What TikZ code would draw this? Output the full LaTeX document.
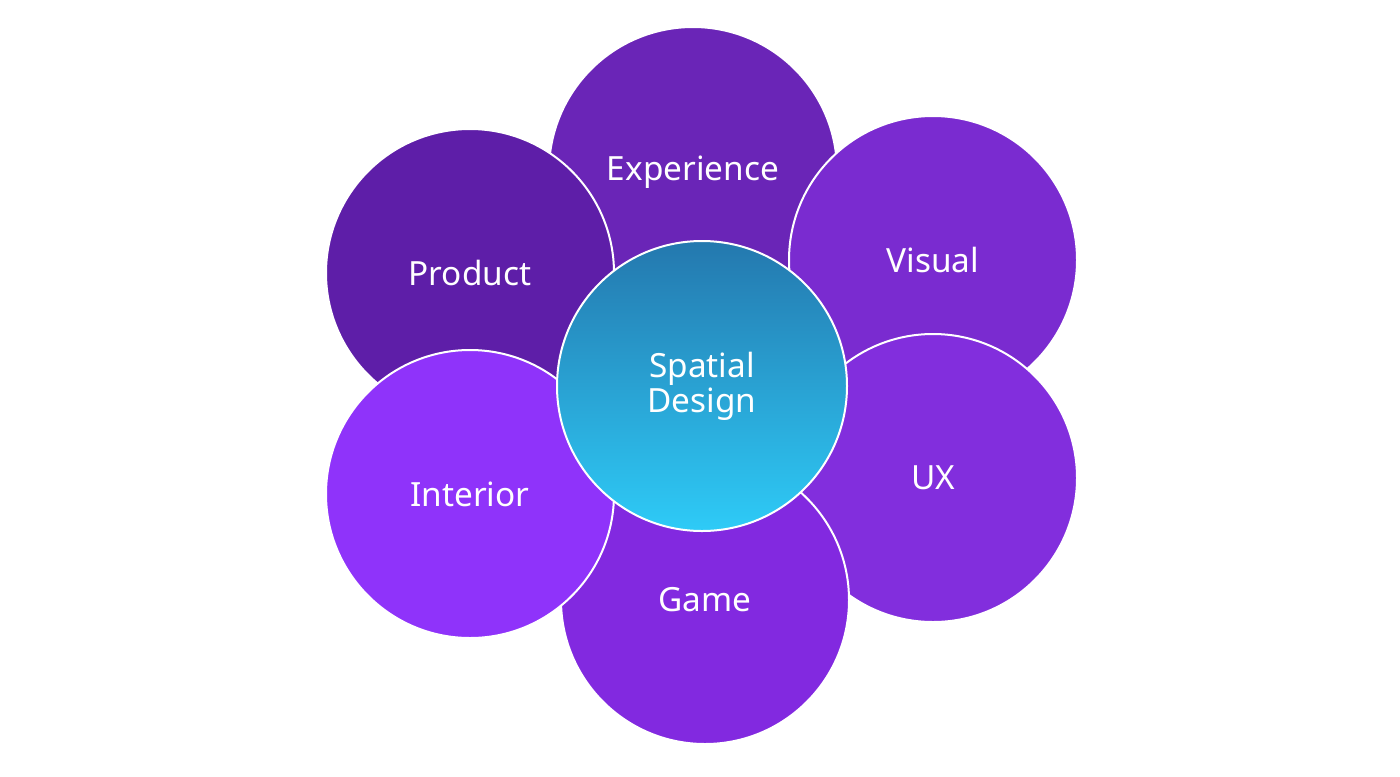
\documentclass[tikz,border=0pt]{standalone}
\usepackage{fontspec}
\setmainfont{Noto Sans}
\definecolor{cExp}{HTML}{6A25B7}
\definecolor{cProd}{HTML}{5E1EA8}
\definecolor{cVis}{HTML}{7A2BD0}
\definecolor{cUX}{HTML}{822EDD}
\definecolor{cGame}{HTML}{8229E0}
\definecolor{cInt}{HTML}{8F33FA}
\definecolor{cTop}{HTML}{2478AE}
\definecolor{cBot}{HTML}{2ECBF7}
\begin{document}
\begin{tikzpicture}[x=0.75pt,y=-0.75pt,
  petal/.style={circle,draw=white,line width=1.5pt,minimum size=288*0.75pt,inner sep=0pt,text=white,font=\fontsize{25}{30}\selectfont,align=center}]
\useasboundingbox (0,0) rectangle (1400,776);
\node[petal,fill=cExp] (exp) at (693,171) {\raisebox{0pt}{}\\[0pt]};
\node[text=white,font=\fontsize{25}{30}\selectfont] (expl) at (693,172) {Experience};
\node[petal,fill=cProd] (prod) at (470,273) {Product};
\node[petal,fill=cVis] (vis) at (933,260) {Visual};
\node[petal,fill=cUX] (ux) at (933,478) {UX};
\node[petal,fill=cGame] (game) at (705,600) {};
\node[text=white,font=\fontsize{25}{30}\selectfont] (gamel) at (705,600) {Game};
\node[petal,fill=cInt] (int) at (470,494) {Interior};
\node[petal,top color=cTop,bottom color=cBot,minimum size=290*0.75pt] (sd) at (702,386) {Spatial\\[-4pt]Design};
\end{tikzpicture}
\end{document}
